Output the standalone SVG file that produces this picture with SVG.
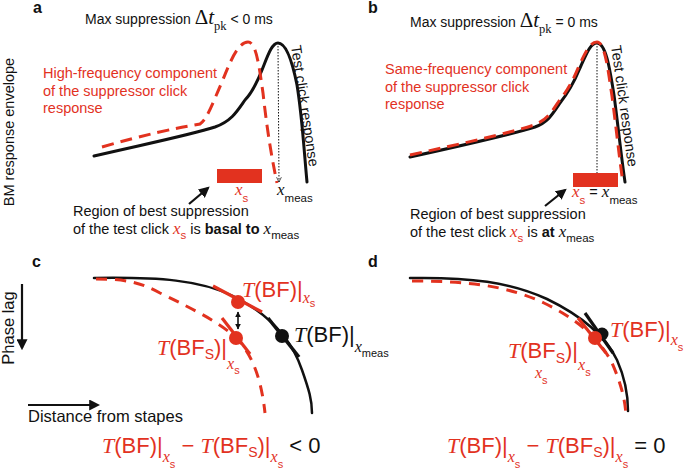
<svg xmlns="http://www.w3.org/2000/svg" width="685" height="473" viewBox="0 0 685 473">
<defs>
<style>
text{font-family:"Liberation Sans",Arial,sans-serif;fill:#111}
.lbl{font-size:16px;font-weight:bold}
.t13{font-size:14px}
.t14{font-size:14.5px}
.t16{font-size:16.5px}
.red{fill:#e2321f}
.it{font-family:"Liberation Serif","Times New Roman",serif;font-style:italic}
.big{font-size:22px}
.blk{fill:none;stroke:#111;stroke-width:3;stroke-linecap:round;stroke-linejoin:round}
.blk2{fill:none;stroke:#111;stroke-width:2.5;stroke-linecap:round}
.rdash{fill:none;stroke:#e2321f;stroke-width:3;stroke-dasharray:12 7}
.rdash2{fill:none;stroke:#e2321f;stroke-width:3;stroke-dasharray:11 8}
.dot{fill:none;stroke:#111;stroke-width:1;stroke-dasharray:1.5 1.5}
.arr{stroke:#111;stroke-width:2.2;fill:none}
</style>
<marker id="ah" viewBox="0 0 10 10" refX="8" refY="5" markerWidth="5" markerHeight="5" orient="auto-start-reverse" markerUnits="strokeWidth">
<path d="M0,0 L10,5 L0,10 Z" fill="#111"/>
</marker>
<marker id="ahd" viewBox="0 0 10 10" refX="9" refY="5" markerWidth="6" markerHeight="6" orient="auto-start-reverse" markerUnits="userSpaceOnUse">
<path d="M0,0 L10,5 L0,10 Z" fill="#111"/>
</marker>
<marker id="ahs" viewBox="0 0 10 10" refX="9" refY="5" markerWidth="6" markerHeight="6" orient="auto" markerUnits="userSpaceOnUse">
<path d="M1,1 L9,5 L1,9" fill="none" stroke="#111" stroke-width="1.2"/>
</marker>
</defs>

<!-- Panel a -->
<g id="panel-a">
<text class="lbl" x="33" y="13">a</text>
<text class="t13" x="85" y="24">Max suppression <tspan font-family="Liberation Serif" font-size="21">Δ</tspan><tspan class="it" font-size="21">t</tspan><tspan font-family="Liberation Serif" font-size="12.5" dy="6">pk</tspan><tspan dy="-6"> &lt; 0 ms</tspan></text>
<text class="t14" transform="translate(14,132) rotate(-90)" text-anchor="middle">BM response envelope</text>
<text class="t14 red" x="43" y="78">High-frequency component</text>
<text class="t14 red" x="43" y="96">of the suppressor click</text>
<text class="t14 red" x="43" y="113">response</text>
<path class="blk" d="M94,156 C150,143 190,135 215,127 C232,121 238,110 245,100 C252,93 256,85 262,70 C268,55 272,43 278,43 C286,43 292,60 297,85 C302,115 304,150 307,182"/>
<path class="rdash" d="M102,147 C140,136 175,128 200,124 C208,118 213,102 222,82 C230,62 238,42 248,42 C256,42 259,65 263,93 C266,120 270,150 277,183"/>
<path class="dot" d="M278,46 L279,182" marker-end="url(#ahs)"/>
<rect x="217" y="169" width="45" height="14" fill="#e2321f"/>
<text class="red" x="235" y="195"><tspan class="it" font-size="17">x</tspan><tspan font-size="11.5" dy="7">s</tspan></text>
<text x="277" y="195"><tspan class="it" font-size="17">x</tspan><tspan font-size="11.5" dy="7">meas</tspan></text>
<line class="arr" x1="189" y1="204" x2="208" y2="188" marker-end="url(#ah)"/>
<text class="t14" x="73" y="216">Region of best suppression</text>
<text class="t14" x="73" y="234">of the test click <tspan class="it red" font-size="17">x</tspan><tspan class="red" font-size="11.5" dy="5">s</tspan><tspan dy="-5"> is </tspan><tspan font-weight="bold">basal to</tspan> <tspan class="it" font-size="17">x</tspan><tspan font-size="11.5" dy="5">meas</tspan></text>
<text class="t14" transform="translate(291,46) rotate(81.5)">Test click response</text>
</g>

<!-- Panel b -->
<g id="panel-b">
<text class="lbl" x="368" y="13">b</text>
<text class="t13" x="410" y="27">Max suppression <tspan font-family="Liberation Serif" font-size="21">Δ</tspan><tspan class="it" font-size="21">t</tspan><tspan font-family="Liberation Serif" font-size="12.5" dy="6">pk</tspan><tspan dy="-6"> = 0 ms</tspan></text>
<text class="t14 red" x="385" y="74">Same-frequency component</text>
<text class="t14 red" x="385" y="92">of the suppressor click</text>
<text class="t14 red" x="385" y="109">response</text>
<path class="blk" d="M410,157 C460,146 510,135 535,127 C548,122 552,115 560,103 C568,93 573,85 580,68 C586,55 590,43 597,43 C606,43 610,70 614,95 C618,125 621,155 625,182"/>
<path class="rdash" d="M410,155 C460,144 510,133 534,125 C547,120 551,113 559,101 C567,91 572,83 579,66 C585,53 590,42 597,42 C605,42 608,70 612,96 C616,126 619,156 623,183"/>
<path class="dot" d="M597,46 L597,185" marker-end="url(#ahs)"/>
<rect x="573" y="173" width="45" height="14" fill="#e2321f"/>
<text x="572" y="197"><tspan class="it red" font-size="17">x</tspan><tspan class="red" font-size="11.5" dy="7">s</tspan><tspan dy="-7" font-size="14.5"> = </tspan><tspan class="it" font-size="17">x</tspan><tspan font-size="11.5" dy="7">meas</tspan></text>
<line class="arr" x1="545" y1="206" x2="565" y2="190" marker-end="url(#ah)"/>
<text class="t14" x="410" y="219">Region of best suppression</text>
<text class="t14" x="410" y="237">of the test click <tspan class="it red" font-size="17">x</tspan><tspan class="red" font-size="11.5" dy="5">s</tspan><tspan dy="-5"> is </tspan><tspan font-weight="bold">at</tspan> <tspan class="it" font-size="17">x</tspan><tspan font-size="11.5" dy="5">meas</tspan></text>
<text class="t14" transform="translate(611,46) rotate(82)">Test click response</text>
</g>

<!-- Panel c -->
<g id="panel-c">
<text class="lbl" x="32" y="267">c</text>
<text class="t16" transform="translate(14,328) rotate(-90)" text-anchor="middle">Phase lag</text>
<line class="arr" x1="22" y1="284" x2="22" y2="348" marker-end="url(#ah)"/>
<line class="arr" x1="28" y1="405" x2="98" y2="405" marker-end="url(#ah)"/>
<text class="t16" x="28" y="422">Distance from stapes</text>
<path class="blk2" d="M94,278 C160,277 200,280 233,296 C265,312 290,335 302,370 C309,390 312,400 312,413"/>
<path class="rdash2" d="M96,279 C125,279 140,282 160,293 C195,310 225,325 240,342 C255,360 262,385 265,413"/>
<line x1="213" y1="286" x2="262" y2="312" stroke="#e2321f" stroke-width="3.2"/>
<line x1="222" y1="318" x2="250" y2="354" stroke="#e2321f" stroke-width="3.2"/>
<line x1="268" y1="318" x2="299" y2="357" stroke="#111" stroke-width="3.5"/>
<circle cx="238" cy="302" r="7" fill="#e2321f"/>
<circle cx="236" cy="338" r="7" fill="#e2321f"/>
<circle cx="282" cy="336" r="7" fill="#111"/>
<line x1="238" y1="312" x2="238" y2="329" stroke="#111" stroke-width="1.6" marker-start="url(#ahd)" marker-end="url(#ahd)"/>
<text class="big red" x="242" y="297"><tspan class="it">T</tspan>(BF)|<tspan class="it" font-size="16" dy="6">x</tspan><tspan font-size="11" dy="4">s</tspan></text>
<text class="big" x="294" y="342"><tspan class="it">T</tspan>(BF)|<tspan class="it" font-size="16" dy="10">x</tspan><tspan font-size="11" dy="5">meas</tspan></text>
<text class="big red" x="157" y="355"><tspan class="it">T</tspan>(BF<tspan font-size="14" dy="4">S</tspan><tspan dy="-4">)|</tspan><tspan class="it" font-size="16" dy="14">x</tspan><tspan font-size="11" dy="5">s</tspan></text>
<text class="big" x="102" y="453"><tspan class="it red">T</tspan><tspan class="red">(BF)|</tspan><tspan class="it red" font-size="16" dy="9">x</tspan><tspan class="red" font-size="11" dy="6">s</tspan><tspan class="red" dy="-15"> − </tspan><tspan class="it red">T</tspan><tspan class="red">(BF</tspan><tspan class="red" font-size="14" dy="4">S</tspan><tspan class="red" dy="-4">)|</tspan><tspan class="it red" font-size="16" dy="9">x</tspan><tspan class="red" font-size="11" dy="6">s</tspan><tspan dy="-15"> &lt; 0</tspan></text>
</g>

<!-- Panel d -->
<g id="panel-d">
<text class="lbl" x="368" y="267">d</text>
<path class="blk2" d="M410,278 C470,277 510,282 547,299 C580,315 605,335 617,360 C625,378 628,395 628,411"/>
<path class="rdash2" d="M412,281 C470,281 508,286 544,303 C577,319 600,339 612,363 C620,381 625,398 626,415"/>
<line x1="585" y1="313" x2="613" y2="353" stroke="#111" stroke-width="3.2"/>
<line x1="578" y1="318" x2="606" y2="353" stroke="#e2321f" stroke-width="3.2"/>
<circle cx="602" cy="334" r="6.5" fill="#111"/>
<circle cx="595" cy="338" r="7" fill="#e2321f"/>
<text class="big red" x="610" y="337"><tspan class="it">T</tspan>(BF)|<tspan class="it" font-size="16" dy="8">x</tspan><tspan font-size="11" dy="6">s</tspan></text>
<text class="big red" x="508" y="358"><tspan class="it">T</tspan>(BF<tspan font-size="14" dy="5">S</tspan><tspan dy="-5">)|</tspan><tspan class="it" font-size="16" dy="12">x</tspan><tspan font-size="11" dy="6">s</tspan></text>
<text class="red" x="535" y="378"><tspan class="it" font-size="16">x</tspan><tspan font-size="11" dy="6">s</tspan></text>
<text class="big" x="447" y="453"><tspan class="it red">T</tspan><tspan class="red">(BF)|</tspan><tspan class="it red" font-size="16" dy="9">x</tspan><tspan class="red" font-size="11" dy="6">s</tspan><tspan class="red" dy="-15"> − </tspan><tspan class="it red">T</tspan><tspan class="red">(BF</tspan><tspan class="red" font-size="14" dy="4">S</tspan><tspan class="red" dy="-4">)|</tspan><tspan class="it red" font-size="16" dy="9">x</tspan><tspan class="red" font-size="11" dy="6">s</tspan><tspan dy="-15"> = 0</tspan></text>
</g>
</svg>
